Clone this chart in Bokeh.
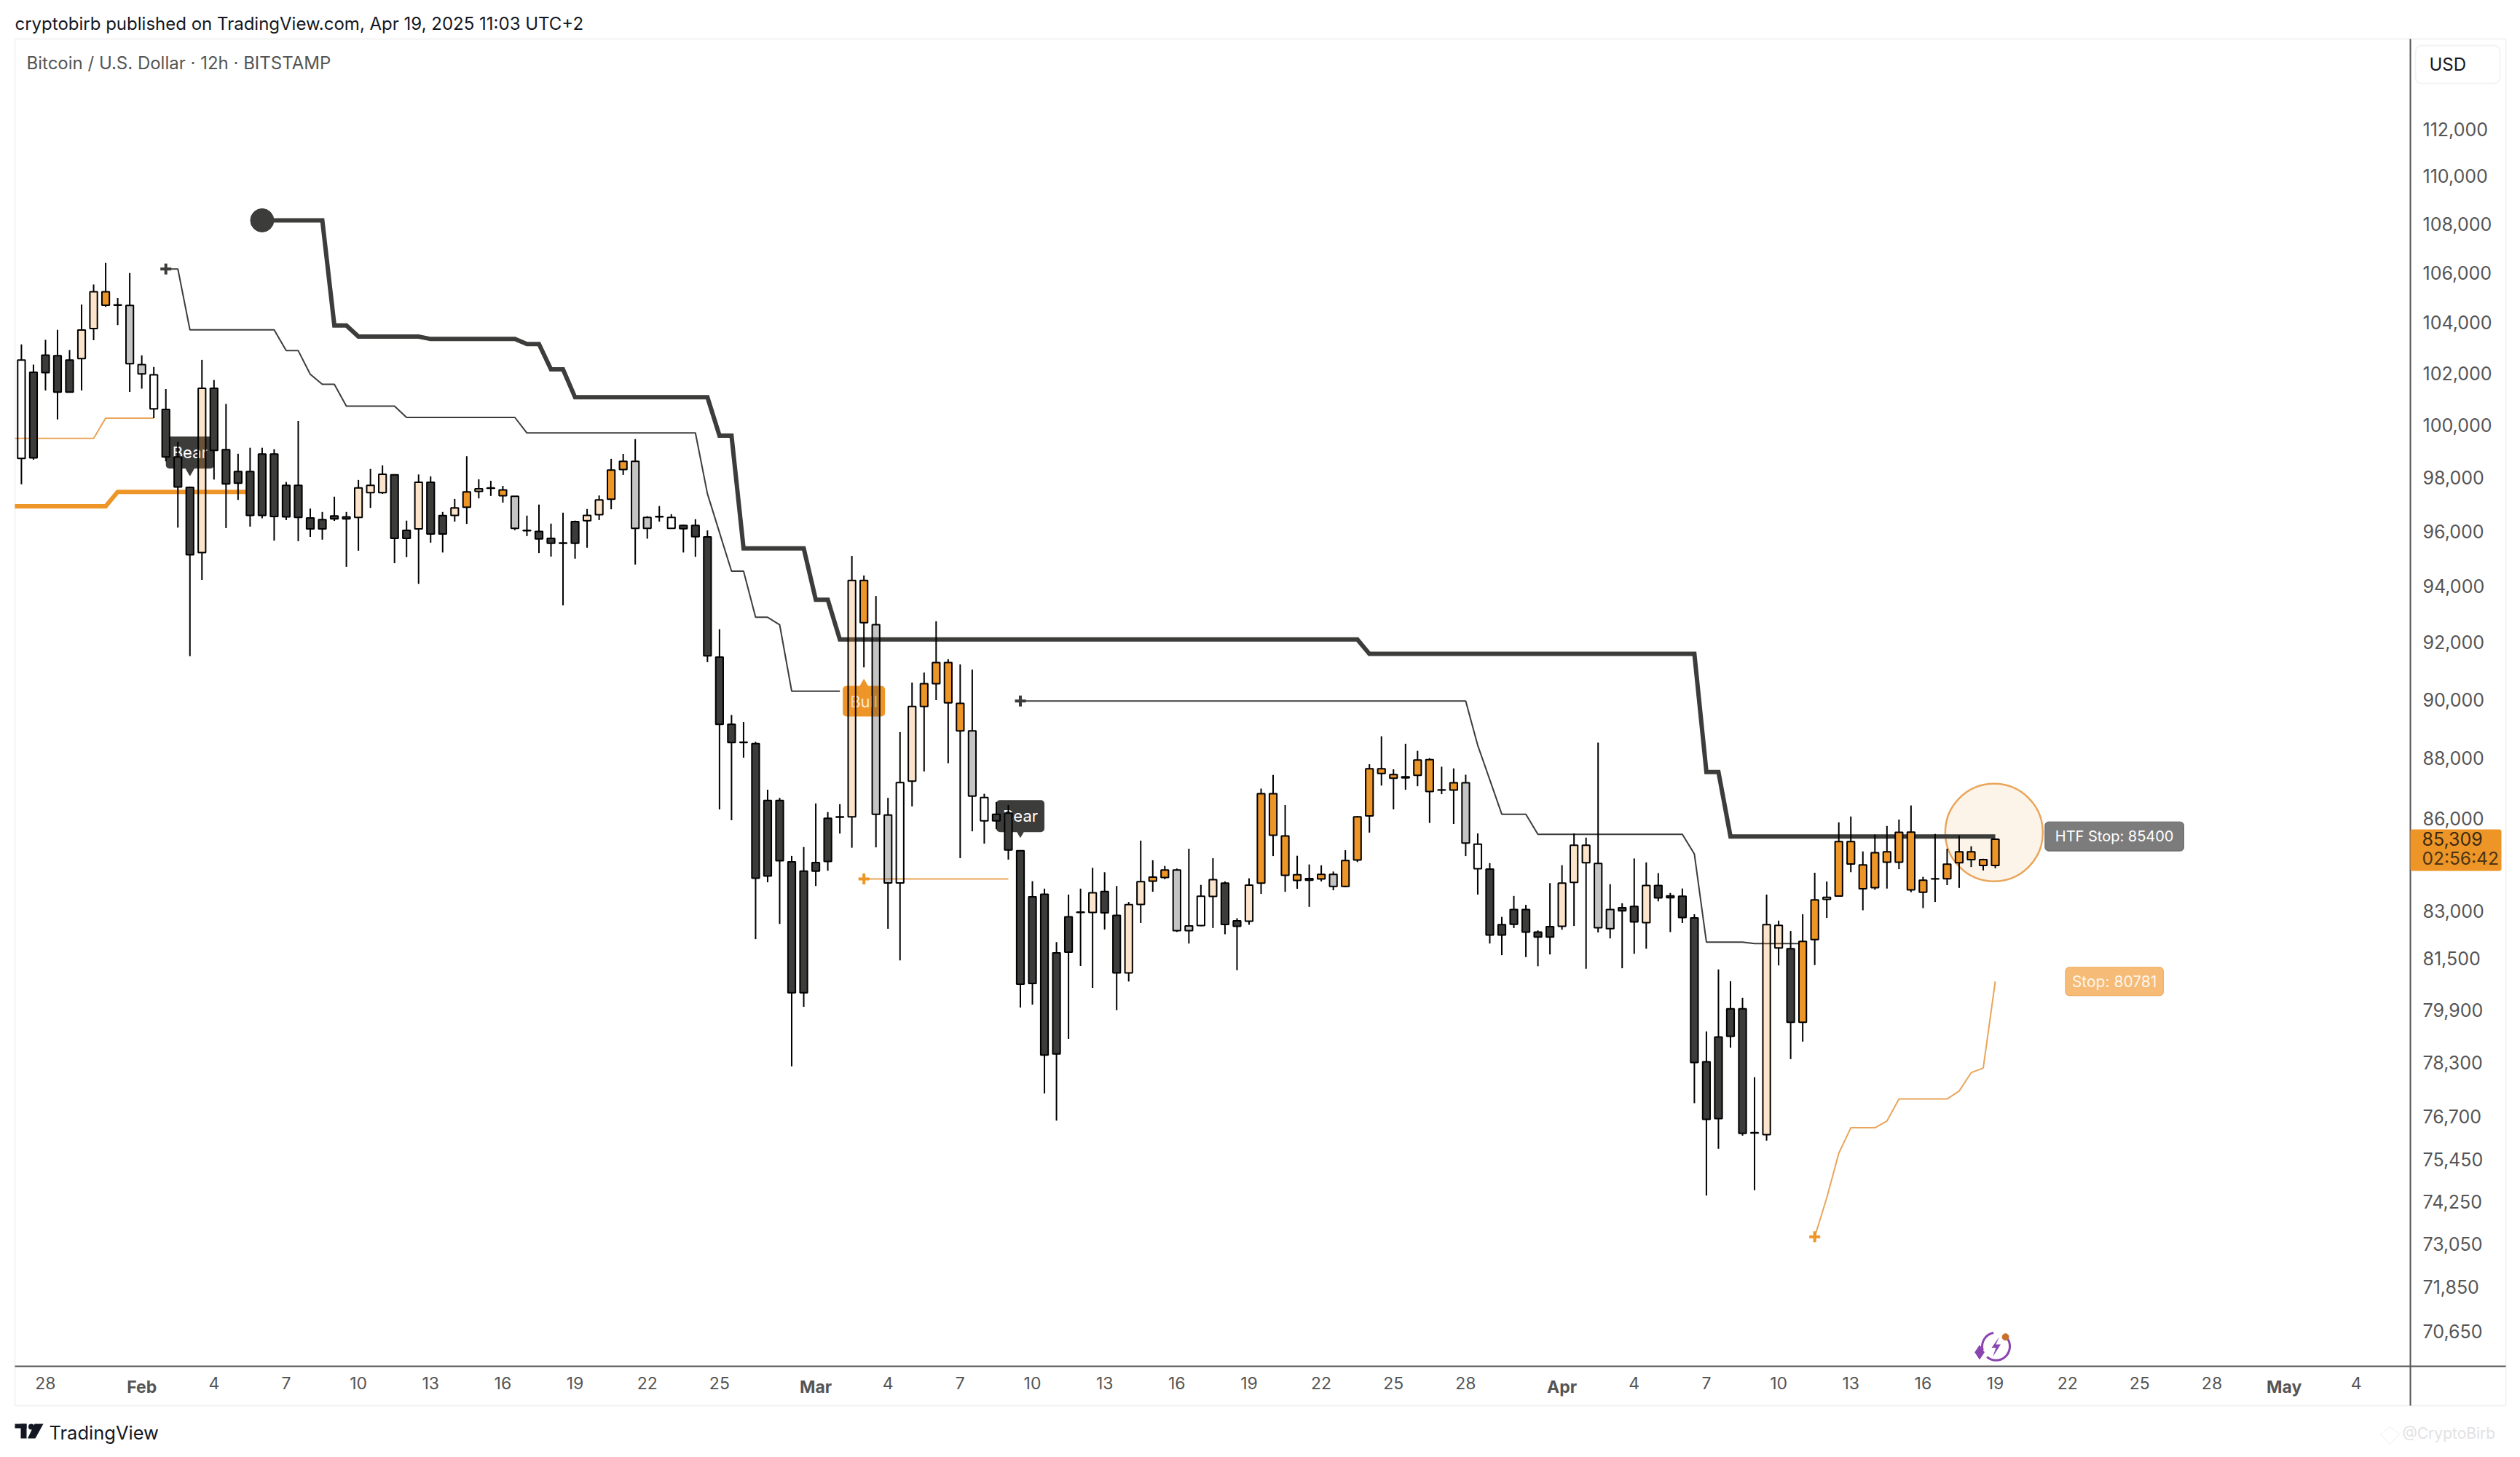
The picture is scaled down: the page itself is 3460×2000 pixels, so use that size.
from bokeh.plotting import figure
from bokeh.models import (Range1d, FixedTicker, NumeralTickFormatter, Label, BoxAnnotation,
                          PolyAnnotation, ColumnDataSource)
from bokeh.embed import file_html
from bokeh.resources import INLINE

# ---------- data (USD, bars are 12h, bar 0 = Jan 27) ----------
wick_hi = [103130,102330,103305,103705,102905,104715,105520,106400,104980,105990,102695,102240,101380,99345,97660,102520,101730,100800,98895,99120,99120,99065,97830,100140,96840,96710,97280,96710,97905,98320,98455,98120,96390,98110,
           98040,96710,97195,98800,97930,97875,97680,97295,96575,96985,96280,96685,96390,96820,97325,98700,98890,99450,96555,96930,96630,96245,96445,96030,92460,
           89471,89230,88556,86944,86672,84765,85055,86487,86202,86462,95097,94383,93644,86672,88886,90590,90936,92742,91403,91220,91039,86808,86536,86437,84946,83948,83708,82009,83518,83708,84380,84236,83792,83281,
           85263,84624,84440,84355,85000,83828,84690,83940,82765,84040,86981,87437,86437,84770,84488,84460,84259,84950,86074,87797,88743,87627,88489,88249,
           88003,87713,87657,87444,85499,84533,82805,83474,83190,82378,83885,84463,85499,85361,88527,83852,83240,84682,84554,84209,83571,83712,82890,79250,81155,80791,80275,77872,83517,82687,82357,82890,84220,83939,
           85863,86055,84910,85462,85743,85954,86420,84087,85482,85000,85431,85080,84672,85322]
body_hi = [102510,102030,102705,102680,102510,103695,105230,105230,104700,104680,102330,101935,100590,98770,97625,101405,101405,99050,98220,98220,98880,98880,97705,97705,96490,96430,96565,96530,97605,97705,98120,98100,96030,97815,
           97815,96575,96860,97460,97570,97605,97535,97295,96030,95990,95735,95570,96355,96585,97160,98275,98610,98610,96510,96540,96510,96215,96215,95790,91480,
           89153,88544,88494,86586,86586,84573,84272,84549,85994,86043,94208,94208,92623,86104,87179,89764,90549,91286,91286,89866,88924,86685,86128,86165,84933,83447,83530,81670,82807,82961,83578,83614,82855,83198,
           83930,84077,84306,84306,82519,83465,83999,83883,82680,83818,86812,86812,85418,84154,84030,84164,84164,84613,86044,87647,87647,87447,87378,87937,
           87949,86940,87174,87174,85150,84338,82560,83040,83040,82325,82495,83885,85109,85109,84522,83040,83100,83136,83809,83809,83474,83463,82773,78330,79081,79937,79937,76234,82560,82540,81802,82034,83345,83431,
           85231,85231,84474,84870,84900,85532,85542,83978,84027,84494,84900,84900,84642,85309]
body_lo = [98720,98735,102020,101255,101255,102565,103755,104690,104690,102365,101970,100610,98770,97640,95135,95220,99020,97760,97785,96585,96585,96540,96530,96510,96085,96085,96455,96455,96510,97430,97430,95735,95735,96085,
           95895,95895,96585,96885,97480,97595,97315,96105,96015,95720,95560,95560,95560,96390,96610,97185,98300,96105,96105,96530,96105,96095,95800,91520,89153,
           88531,88531,84044,84116,84609,80434,80434,84272,84585,86030,86043,92689,86128,83888,83888,87229,89764,90549,89891,88924,86734,85909,85909,84958,80695,80718,78532,78565,81694,82950,82950,82938,81044,81044,
           83200,83950,84067,82370,82370,82529,83456,82566,82510,82670,83883,85438,84135,83970,83980,84020,83780,83780,84632,86074,87487,87328,87338,87427,
           86884,86929,86929,85186,84350,82230,82230,82570,82325,82167,82167,82506,83906,84544,82463,82432,82997,82645,82624,83409,83420,82783,78310,76624,76644,79101,76214,76224,76175,81824,79526,79526,82087,83366,
           83472,84504,83702,83740,84563,84563,83671,83593,84017,84027,84543,84642,84454,84454]
wick_lo = [97740,98670,101320,100200,101255,101320,103295,104620,103895,101265,101390,100255,98610,96135,91510,94225,97920,96115,97160,96170,96475,95655,96410,95635,95790,95690,96380,94700,95285,96860,97385,94830,95050,94080,
           95580,95220,96355,96270,97215,97305,97060,96040,95820,95200,95070,93310,94995,95395,96410,96810,98095,94780,95725,96355,96085,95220,95060,91300,86287,
           85933,88017,82103,83912,82582,78196,80000,83792,84284,85494,85031,91116,85043,82430,81437,86388,87553,89981,87829,84693,85567,85165,85640,84645,79977,80068,77387,76586,79024,81263,80584,82406,79898,80780,
           82613,83608,84010,82330,81965,82510,82454,82257,81131,82557,83541,84760,83608,83703,83125,83940,83655,83750,84565,85525,87081,86290,86942,87061,
           85843,86796,85810,84760,83517,81965,81600,82453,81540,81255,81623,82400,82517,81176,82315,82126,81192,81644,81802,83301,82325,82613,77098,74417,75765,78756,76146,74568,76000,81280,78413,78939,81290,82773,
           83452,84236,83016,83671,83710,84335,83593,83085,83281,83820,83731,84404,84295,84365]
kinds = list("WDDDDCCODGGWDDDCDDDDDDDDDDDDCCCDDC"
             "DDCOCDOGDDDDDCCOOGGDWDDDD"
             "DDDDDDDDDDCOGGWCOOOOGWDDDDDDDDCDDC"
             "COOGGWCDDCOOOODOGOOOOODO"
             "ODOGWDDDDDDCCCGGDDCDDDDDDDDDCCDOOC"
             "OOOOOOOOOOOOOO")
assert len(kinds) == len(wick_hi) == len(body_hi) == len(body_lo) == len(wick_lo) == 165

htf_x = [20,25,26,27,28,33,34,41,42,43,44,45,46,57,58,59,60,65,66,67,68,111,112,139,140,141,142,164]
htf_y = [108150,108150,103880,103880,103435,103435,103340,103340,103140,103140,102145,102145,101057,101057,99585,99585,95370,95370,93510,93510,92097,92097,91590,91590,87534,87534,85400,85400]
stop_a_x = [12,13,14,21,22,23,24,25,26,27,31,32,41,42,56,57,59,60,61,62,63,64,68]
stop_a_y = [106150,106150,103705,103705,102880,102880,101950,101560,101560,100715,100715,100280,100280,99685,99685,97385,94540,94540,92885,92885,92620,90290,90290]
stop_b_x = [83,120,121,123,125,126,138,139,140,143,144,148]
stop_b_y = [89950,89950,88435,86130,86130,85467,85467,84825,82010,82010,81965,81965]
htf_bull_x = [-0.54,7,8,19]
htf_bull_y = [96920,96920,97460,97460]
bull_a_x = [-0.54,6,7,11]
bull_a_y = [99480,99480,100255,100255]
bull_b_x = [70,82]
bull_b_y = [84020,84020]
bull_c_x = [149,150,151,152,154,155,156,160,161,162,163,164]
bull_c_y = [73250,74350,75635,76376,76376,76574,77223,77223,77459,78006,78144,80781]

x_tick_bars = [2,16,22,28,34,40,46,52,58,72,78,84,90,96,102,108,114,120,134,140,146,152,158,164,170,176,182,194]
x_tick_text = ["28","4","7","10","13","16","19","22","25","4","7","10","13","16","19","22","25","28","4","7","10","13","16","19","22","25","28","4"]
month_bars = [10,66,128,188]
month_text = ["Feb","Mar","Apr","May"]
y_ticks = [112000,110000,108000,106000,104000,102000,100000,98000,96000,94000,92000,90000,88000,86000,83000,81500,79900,78300,76700,75450,74250,73050,71850,70650]

DARK, ORANGE, AXIS = "#3c3c3b", "#ee9528", "#555555"
INK = "#131722"
FONT = "Inter"
THIN_ORANGE = "#e9a55a"
FILLS = {"D": (DARK, 1.0), "O": (ORANGE, 1.0), "C": (ORANGE, 0.25), "G": (DARK, 0.3), "W": ("#ffffff", 0.0)}

# The frame fills the whole canvas; both axes are pinned inside it.
p = figure(width=3444, height=1984, output_backend="svg", toolbar_location=None,
           y_axis_type="log", y_axis_location="right",
           x_range=Range1d(-1.749, 206.66), y_range=Range1d(67612, 117665),
           min_border=0, min_border_left=0, min_border_right=0, min_border_top=0, min_border_bottom=0)
p.grid.visible = False
p.outline_line_color = None

for ax in (p.yaxis[0], p.xaxis[0]):
    ax.axis_line_color = AXIS
    ax.axis_line_width = 2
    ax.major_tick_line_color = None
    ax.minor_tick_line_color = None
    ax.major_tick_out = 0
    ax.major_tick_in = 0
    ax.minor_tick_out = 0
    ax.major_label_text_color = AXIS
    ax.major_label_text_font = FONT
p.xaxis[0].major_label_text_font_size = "23px"
p.yaxis[0].major_label_text_font_size = "25px"
p.yaxis[0].fixed_location = 198.49
p.yaxis[0].bounds = (68658, 115936)
p.yaxis[0].ticker = FixedTicker(ticks=y_ticks)
p.yaxis[0].formatter = NumeralTickFormatter(format="0,0")
p.yaxis[0].major_label_standoff = 17
p.xaxis[0].fixed_location = 69704
p.xaxis[0].bounds = (-0.5386, 206.42)
p.xaxis[0].ticker = FixedTicker(ticks=x_tick_bars)
p.xaxis[0].major_label_overrides = dict(zip(x_tick_bars, x_tick_text))
p.xaxis[0].major_label_standoff = 15


def box(l, t, r, b, fill=None, line=None, lw=1, radius=0, level="annotation"):
    p.add_layout(BoxAnnotation(left=l, right=r, top=t, bottom=b,
                               left_units="canvas", right_units="canvas", top_units="canvas", bottom_units="canvas",
                               fill_color=fill, fill_alpha=1 if fill else 0, line_color=line, line_width=lw,
                               line_alpha=1 if line else 0, border_radius=radius, level=level, editable=False))


def text(x, y, s, size, color, style="normal", align="left"):
    p.add_layout(Label(x=x, y=y, x_units="canvas", y_units="canvas", text=s, text_font=FONT,
                       text_font_size=f"{size}px", text_color=color, text_font_style=style,
                       text_align=align, text_baseline="middle"))


# pane frame
box(20, 53, 3440, 1929, None, "#f3f3f3", 2, level="underlay")

# header, footer
text(20, 32, "cryptobirb published on TradingView.com, Apr 19, 2025 11:03 UTC+2", 24, INK)
text(36, 86, "Bitcoin / U.S. Dollar · 12h · BITSTAMP", 24, AXIS)
box(3316, 62, 3432, 114, "#ffffff", "#f3f3f3", 2, 8)
text(3335, 88, "USD", 24, INK)
text(67, 1966, "TradingView", 25.5, INK)
box(20, 1954, 36, 1960, INK)
box(28, 1954, 36, 1974, INK)
box(38.5, 1954, 46.5, 1962, INK, radius=4)
p.add_layout(PolyAnnotation(xs=[47, 59, 48, 37.5], ys=[1954, 1954, 1974, 1974],
                            xs_units="canvas", ys_units="canvas", fill_color=INK, fill_alpha=1,
                            line_color=None, editable=False))
text(3298, 1967, "@CryptoBirb", 21, "#e2e2e2")
p.add_layout(PolyAnnotation(xs=[3268, 3281, 3294, 3281], ys=[1968, 1958, 1968, 1982],
                            xs_units="canvas", ys_units="canvas", fill_color=None, fill_alpha=0,
                            line_color="#e0e0e0", line_width=1.5, editable=False))

# month names are bold, so they sit apart from the plain day ticks
for b_, t_ in zip(month_bars, month_text):
    p.add_layout(Label(x=b_, y=1903, x_units="data", y_units="canvas", text=t_, text_font=FONT,
                       text_font_size="23px", text_font_style="bold", text_color=AXIS,
                       text_align="center", text_baseline="middle"))

# price tag on the axis
box(3309, 1138, 3434, 1195, ORANGE, radius=3)
text(3325, 1151, "85,309", 25, "#3a2a10")
text(3325, 1177, "02:56:42", 24.5, "#4a3414")


# signal labels sit under the semi-transparent candles
def tag(x, y, s, fill, color, pad, size=22, border=None):
    p.add_layout(Label(x=x, y=y, text=s, text_font=FONT, text_font_size=f"{size}px", text_color=color,
                       text_align="center", text_baseline="middle", background_fill_color=fill,
                       background_fill_alpha=1, border_line_color=border, padding=pad, border_radius=5,
                       level="underlay"))


# padding is (horizontal, vertical)
tag(14, 98940, "Bear", DARK, "#ffffff", (9, 9))
tag(83, 86067, "Bear", DARK, "#ffffff", (9, 9))
tag(70, 89943, "Bull", ORANGE, "#fde9cf", (10, 8))
p.scatter([14, 83], [98240, 85520], marker="inverted_triangle", size=11, color=DARK, level="underlay")
p.scatter([70], [90540], marker="triangle", size=11, color=ORANGE, level="underlay")

# highlight circle
p.scatter([163.9], [85530], marker="circle", size=134, fill_color=ORANGE, fill_alpha=0.1,
          line_color=THIN_ORANGE, line_width=2.5)

# stop lines
p.line(htf_bull_x, htf_bull_y, color=ORANGE, line_width=6, line_join="miter")
p.line(bull_a_x, bull_a_y, color=THIN_ORANGE, line_width=2)
p.line(bull_b_x, bull_b_y, color=THIN_ORANGE, line_width=2)
p.line(bull_c_x, bull_c_y, color=THIN_ORANGE, line_width=2)
p.line(stop_a_x, stop_a_y, color=DARK, line_width=2)
p.line(stop_b_x, stop_b_y, color=DARK, line_width=2)
p.line(htf_x, htf_y, color=DARK, line_width=6, line_join="miter")
p.scatter([htf_x[0]], [htf_y[0]], marker="circle", size=32, color=DARK)
p.scatter([stop_a_x[0], stop_b_x[0]], [stop_a_y[0], stop_b_y[0]], marker="cross", size=15, line_color=DARK, line_width=4)
p.scatter([bull_b_x[0], bull_c_x[0]], [bull_b_y[0], bull_c_y[0]], marker="cross", size=15, line_color=ORANGE, line_width=4)

# candles
bars = list(range(len(kinds)))
p.segment(bars, wick_hi, bars, body_hi, color="#000000", line_width=2)
p.segment(bars, body_lo, bars, wick_lo, color="#000000", line_width=2)
src = ColumnDataSource(dict(x=bars, top=body_hi, bottom=body_lo,
                            fill=[FILLS[k][0] for k in kinds], alpha=[FILLS[k][1] for k in kinds]))
p.vbar(x="x", top="top", bottom="bottom", width=0.62, source=src, fill_color="fill", fill_alpha="alpha",
       line_color="#000000", line_width=2)

# stop captions
tag(173.9, 85400, "HTF Stop: 85400", "#7c7c7c", "#ffffff", (14, 8), 20, "#666666")
tag(173.9, 80781, "Stop: 80781", "#f5bb77", "#fff6ea", (9, 7), 21, "#f0a95a")

# small alert badge near the time axis
PURPLE = "#8a45b0"
p.arc([164.06], [70235], radius=19, radius_units="screen", start_angle=1.75, end_angle=3.4, line_color=PURPLE, line_width=3)
p.arc([164.06], [70235], radius=19, radius_units="screen", start_angle=4.0, end_angle=6.9, line_color=PURPLE, line_width=3)
p.scatter([162.7], [70078], marker="diamond", size=19, color=PURPLE)
p.scatter([164.85], [70490], marker="circle", size=9, color="#c8702a")
p.patch([164.35, 163.7, 164.05, 163.8, 164.45, 164.05], [70500, 70200, 70200, 69960, 70290, 70290], color=PURPLE, line_width=0)

open("out.html", "w").write(file_html(p, INLINE))
